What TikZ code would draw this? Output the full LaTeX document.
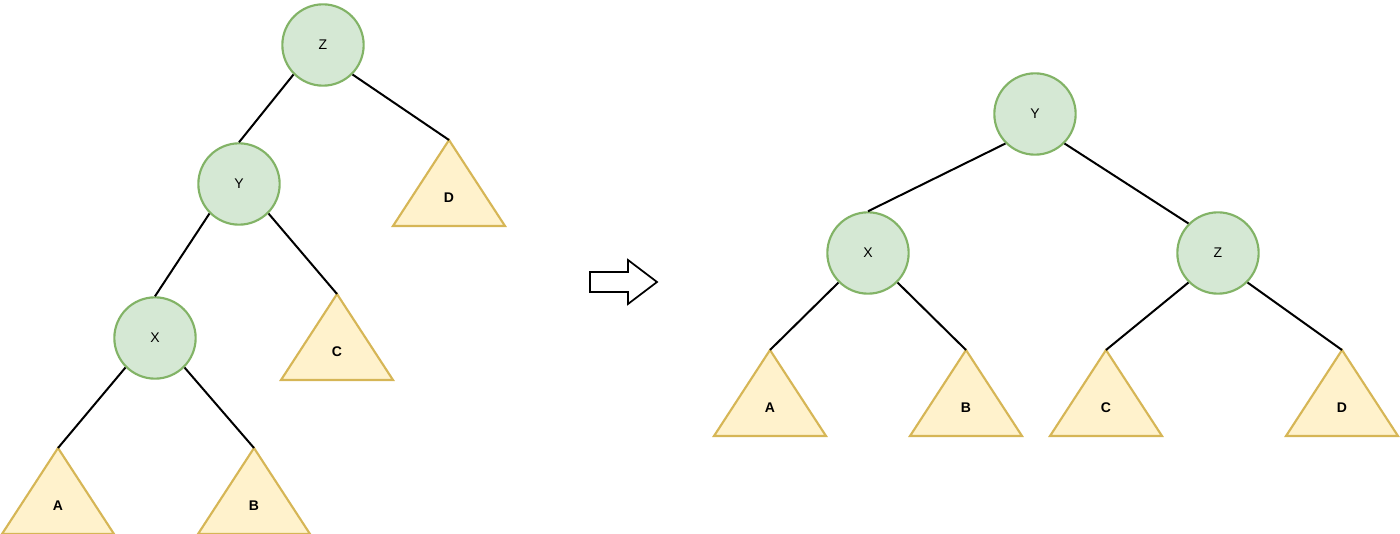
\documentclass[tikz,border=0pt]{standalone}
\usepackage{fontspec}
\setmainfont{Liberation Sans}
\usetikzlibrary{calc}
\definecolor{cfill}{RGB}{213,232,212}
\definecolor{cdraw}{RGB}{130,179,102}
\definecolor{tfill}{RGB}{255,242,204}
\definecolor{tdraw}{RGB}{214,182,86}
\newcommand{\mytri}[4]{%
  \coordinate (#1) at (#2,#3);
  \path[tri] (#1) -- ++(56,86) -- ++(-112,0) -- cycle;
  \node[tlab] (#1l) at ($(#1)+(0,58)$) {#4};}
\begin{document}
\begin{tikzpicture}[x=0.75pt,y=-0.75pt,
  circ/.style={circle,draw=cdraw,fill=cfill,line width=1.6pt,minimum size=61pt,inner sep=0pt,font=\fontsize{10.5pt}{12pt}\selectfont},
  tri/.style={draw=tdraw,fill=tfill,line width=1.6pt},
  tlab/.style={font=\bfseries\fontsize{10.5pt}{12pt}\selectfont},
  edge/.style={line width=1.5pt}]
\useasboundingbox (0,0) rectangle (1400,534);
% left tree
\mytri{D1}{449}{140}{D}
\mytri{C1}{337}{294}{C}
\mytri{A1}{58}{448}{A}
\mytri{B1}{254}{448}{B}
\node[circ] (Z1) at (323,45) {Z};
\node[circ] (Y1) at (239,184) {Y};
\node[circ] (X1) at (155,338) {X};
\draw[edge] (Z1.south west) -- (Y1.north);
\draw[edge] (Z1.south east) -- (D1);
\draw[edge] (Y1.south west) -- (X1.north);
\draw[edge] (Y1.south east) -- (C1);
\draw[edge] (X1.south west) -- (A1);
\draw[edge] (X1.south east) -- (B1);
% arrow
\draw[line width=1.3pt,line join=miter] (590,272) -- (628,272) -- (628,260) -- (657,282) -- (628,304) -- (628,292) -- (590,292) -- cycle;
% right tree
\mytri{A2}{770}{350}{A}
\mytri{B2}{966}{350}{B}
\mytri{C2}{1106}{350}{C}
\mytri{D2}{1342}{350}{D}
\node[circ] (Y2) at (1035,114) {Y};
\node[circ] (X2) at (868,253) {X};
\node[circ] (Z2) at (1218,253) {Z};
\draw[edge] (Y2.south west) -- (X2.north);
\draw[edge] (Y2.south east) -- (Z2.north west);
\draw[edge] (X2.south west) -- (A2);
\draw[edge] (X2.south east) -- (B2);
\draw[edge] (Z2.south west) -- (C2);
\draw[edge] (Z2.south east) -- (D2);
\end{tikzpicture}
\end{document}
